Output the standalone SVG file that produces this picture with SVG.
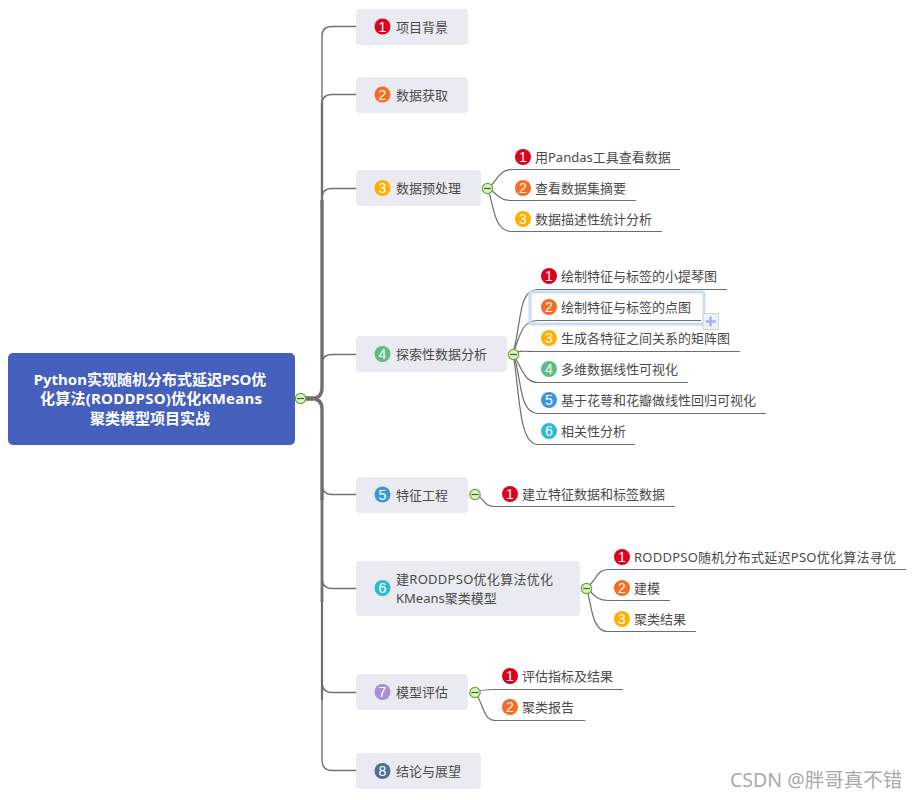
<svg xmlns="http://www.w3.org/2000/svg" width="917" height="800" viewBox="0 0 917 800">
<style>
text{font-family:"Noto Sans","Noto Sans CJK SC",sans-serif}
.t{font-size:13px;fill:#4a4a4a}
.title{font-size:15px;font-weight:700;fill:#fff;text-anchor:middle}
.box{fill:#e9eaf2}
.n{font-size:14px;fill:#fff;text-anchor:middle;font-family:"Liberation Sans",sans-serif}
.l{fill:none;stroke:#6e6e6e;stroke-width:1.2}
.tr{fill:none;stroke:#707070}
.c1{fill:#e0001b}.c2{fill:#f96b20}.c3{fill:#ffae00}.c4{fill:#5ebd85}.c5{fill:#3b97dc}.c6{fill:#2dbccf}.c7{fill:#a88fcd}.c8{fill:#4e6e96}
</style>
<defs>
<g id="tg"><circle r="5.2" fill="#dcefc8" stroke="#6aa82a" stroke-width="1.2"/><path d="M-3.5 0H3.5" stroke="#3f6e14" stroke-width="1.2"/></g>
</defs>
<rect width="917" height="800" fill="#fff"/>
<g id="connectors">
<path class="tr" stroke-width="4.5" d="M300 398.500H313"/>
<path class="tr" stroke-width="3.4" d="M311 398.500Q322 398.500 322 388V200"/>
<path class="tr" stroke-width="3.4" d="M311 398.500Q322 398.500 322 409V500"/>
<path class="tr" stroke-width="2.800" d="M322 498V602"/>
<path class="tr" stroke-width="2.200" d="M322 600V700"/>
<path class="tr" stroke-width="2.400" d="M322 202V103"/>
<path class="tr" stroke-width="1.400" d="M322 105V36Q322 26.500 332 26.500H356"/>
<path class="tr" stroke-width="1.400" d="M322 104Q322 94.500 332 94.500H356"/>
<path class="tr" stroke-width="1.400" d="M322 198Q322 188.500 332 188.500H356"/>
<path class="tr" stroke-width="1.400" d="M322 364Q322 354.500 332 354.500H356"/>
<path class="tr" stroke-width="1.400" d="M322 484Q322 494.500 332 494.500H356"/>
<path class="tr" stroke-width="1.400" d="M322 578Q322 588.500 332 588.500H356"/>
<path class="tr" stroke-width="1.400" d="M322 682Q322 692.500 332 692.500H356"/>
<path class="tr" stroke-width="1.400" d="M322 698V760Q322 770.500 332 770.500H356"/>
<path class="l" d="M487 188C497 184 497 169.500 512 169.500H680"/>
<path class="l" d="M487 188C497 192 497 200.500 512 200.500H636"/>
<path class="l" d="M487 188C494 200 492 231.500 512 231.500H662"/>
<path class="l" d="M513 354C522 320 518 289.500 538 289.500H727"/>
<path class="l" d="M513 354C520 335 522 320.500 538 320.500H701"/>
<path class="l" d="M513 354C520 350 524 351.500 538 351.500H740"/>
<path class="l" d="M513 354C522 368 524 382.500 538 382.500H688"/>
<path class="l" d="M513 354C522 375 518 413.500 538 413.500H766"/>
<path class="l" d="M513 354C520 390 518 444.500 538 444.500H635"/>
<path class="l" d="M475 494C485 498 483 506.500 495 506.500H675"/>
<path class="l" d="M586 588C596 582 596 569.500 608 569.500H906"/>
<path class="l" d="M586 588C594 594 596 600.500 608 600.500H670"/>
<path class="l" d="M586 588C592 600 590 631.500 608 631.500H696"/>
<path class="l" d="M475 692C481 690 485 689.500 495 689.500H623"/>
<path class="l" d="M475 692C483 702 483 720.500 495 720.500H585"/>
</g>
<g id="root"><rect x="8" y="353" width="287" height="92" rx="5" fill="#445fbc"/>
<text class="title" x="150" y="384.500">Python实现随机分布式延迟PSO优</text>
<text class="title" x="151" y="403.500" textLength="222">化算法(RODDPSO)优化KMeans</text>
<text class="title" x="150" y="423.500">聚类模型项目实战</text>
<use href="#tg" x="300.500" y="398.500"/></g>
<g id="n1"><rect class="box" x="356" y="9" width="112" height="36" rx="4"/><circle class="c1" cx="382.500" cy="26.500" r="8"/><text class="n" x="382.500" y="31.500">1</text><text class="t" x="396" y="31.500">项目背景</text></g>
<g id="n2"><rect class="box" x="356" y="77" width="112" height="36" rx="4"/><circle class="c2" cx="382.500" cy="94.500" r="8"/><text class="n" x="382.500" y="99.500">2</text><text class="t" x="396" y="99.500">数据获取</text></g>
<g id="n3"><rect class="box" x="356" y="170" width="125" height="36" rx="4"/><circle class="c3" cx="382.500" cy="188" r="8"/><text class="n" x="382.500" y="193">3</text><text class="t" x="396" y="193">数据预处理</text><use href="#tg" x="487.500" y="188.500"/></g>
<g id="n31"><circle class="c1" cx="523" cy="157" r="8"/><text class="n" x="523" y="162">1</text><text class="t" x="535" y="162">用Pandas工具查看数据</text></g>
<g id="n32"><circle class="c2" cx="523" cy="188" r="8"/><text class="n" x="523" y="193">2</text><text class="t" x="535" y="193">查看数据集摘要</text></g>
<g id="n33"><circle class="c3" cx="523" cy="219" r="8"/><text class="n" x="523" y="224">3</text><text class="t" x="535" y="224">数据描述性统计分析</text></g>
<g id="n4"><rect class="box" x="356" y="336" width="151" height="36" rx="4"/><circle class="c4" cx="382.500" cy="354" r="8"/><text class="n" x="382.500" y="359">4</text><text class="t" x="396" y="359">探索性数据分析</text><use href="#tg" x="513.500" y="354.500"/></g>
<g id="n41"><circle class="c1" cx="549" cy="276" r="8"/><text class="n" x="549" y="281">1</text><text class="t" x="561" y="281">绘制特征与标签的小提琴图</text></g>
<g id="n42"><rect x="530" y="292" width="174" height="32" rx="2" fill="none" stroke="#c9dcf6" stroke-width="3"/><circle class="c2" cx="549" cy="307" r="8"/><text class="n" x="549" y="312">2</text><text class="t" x="561" y="312">绘制特征与标签的点图</text>
<rect x="703" y="313.500" width="15.500" height="16" fill="#eef2f4" stroke="#c6d8c8"/><path d="M705.500 321.500H716M710.500 316.500V326.500" stroke="#a4b4f4" stroke-width="2.500"/></g>
<g id="n43"><circle class="c3" cx="549" cy="338" r="8"/><text class="n" x="549" y="343">3</text><text class="t" x="561" y="343">生成各特征之间关系的矩阵图</text></g>
<g id="n44"><circle class="c4" cx="549" cy="369" r="8"/><text class="n" x="549" y="374">4</text><text class="t" x="561" y="374">多维数据线性可视化</text></g>
<g id="n45"><circle class="c5" cx="549" cy="400" r="8"/><text class="n" x="549" y="405">5</text><text class="t" x="561" y="405">基于花萼和花瓣做线性回归可视化</text></g>
<g id="n46"><circle class="c6" cx="549" cy="431" r="8"/><text class="n" x="549" y="436">6</text><text class="t" x="561" y="436">相关性分析</text></g>
<g id="n5"><rect class="box" x="356" y="477" width="112" height="36" rx="4"/><circle class="c5" cx="382.500" cy="494.500" r="8"/><text class="n" x="382.500" y="499.500">5</text><text class="t" x="396" y="499.500">特征工程</text><use href="#tg" x="475" y="494.500"/></g>
<g id="n51"><circle class="c1" cx="510" cy="494" r="8"/><text class="n" x="510" y="499">1</text><text class="t" x="522" y="499">建立特征数据和标签数据</text></g>
<g id="n6"><rect class="box" x="356" y="561" width="224" height="55" rx="4"/><circle class="c6" cx="382.500" cy="588" r="8"/><text class="n" x="382.500" y="593">6</text><text class="t" x="396" y="583.500" textLength="157">建RODDPSO优化算法优化</text><text class="t" x="396" y="602.500">KMeans聚类模型</text><use href="#tg" x="586.500" y="588.500"/></g>
<g id="n61"><circle class="c1" cx="622" cy="557" r="8"/><text class="n" x="622" y="562">1</text><text class="t" x="634" y="562" textLength="262">RODDPSO随机分布式延迟PSO优化算法寻优</text></g>
<g id="n62"><circle class="c2" cx="622" cy="588" r="8"/><text class="n" x="622" y="593">2</text><text class="t" x="634" y="593">建模</text></g>
<g id="n63"><circle class="c3" cx="622" cy="619" r="8"/><text class="n" x="622" y="624">3</text><text class="t" x="634" y="624">聚类结果</text></g>
<g id="n7"><rect class="box" x="356" y="674" width="112" height="36" rx="4"/><circle class="c7" cx="382.500" cy="692" r="8"/><text class="n" x="382.500" y="697">7</text><text class="t" x="396" y="697">模型评估</text><use href="#tg" x="475" y="692.500"/></g>
<g id="n71"><circle class="c1" cx="510" cy="676" r="8"/><text class="n" x="510" y="681">1</text><text class="t" x="522" y="681">评估指标及结果</text></g>
<g id="n72"><circle class="c2" cx="510" cy="707" r="8"/><text class="n" x="510" y="712">2</text><text class="t" x="522" y="712">聚类报告</text></g>
<g id="n8"><rect class="box" x="356" y="753" width="125" height="36" rx="4"/><circle class="c8" cx="382.500" cy="771" r="8"/><text class="n" x="382.500" y="776">8</text><text class="t" x="396" y="776">结论与展望</text></g>
<text x="730" y="787" font-size="19.500" fill="#a9a9a9">CSDN @胖哥真不错</text>
</svg>
